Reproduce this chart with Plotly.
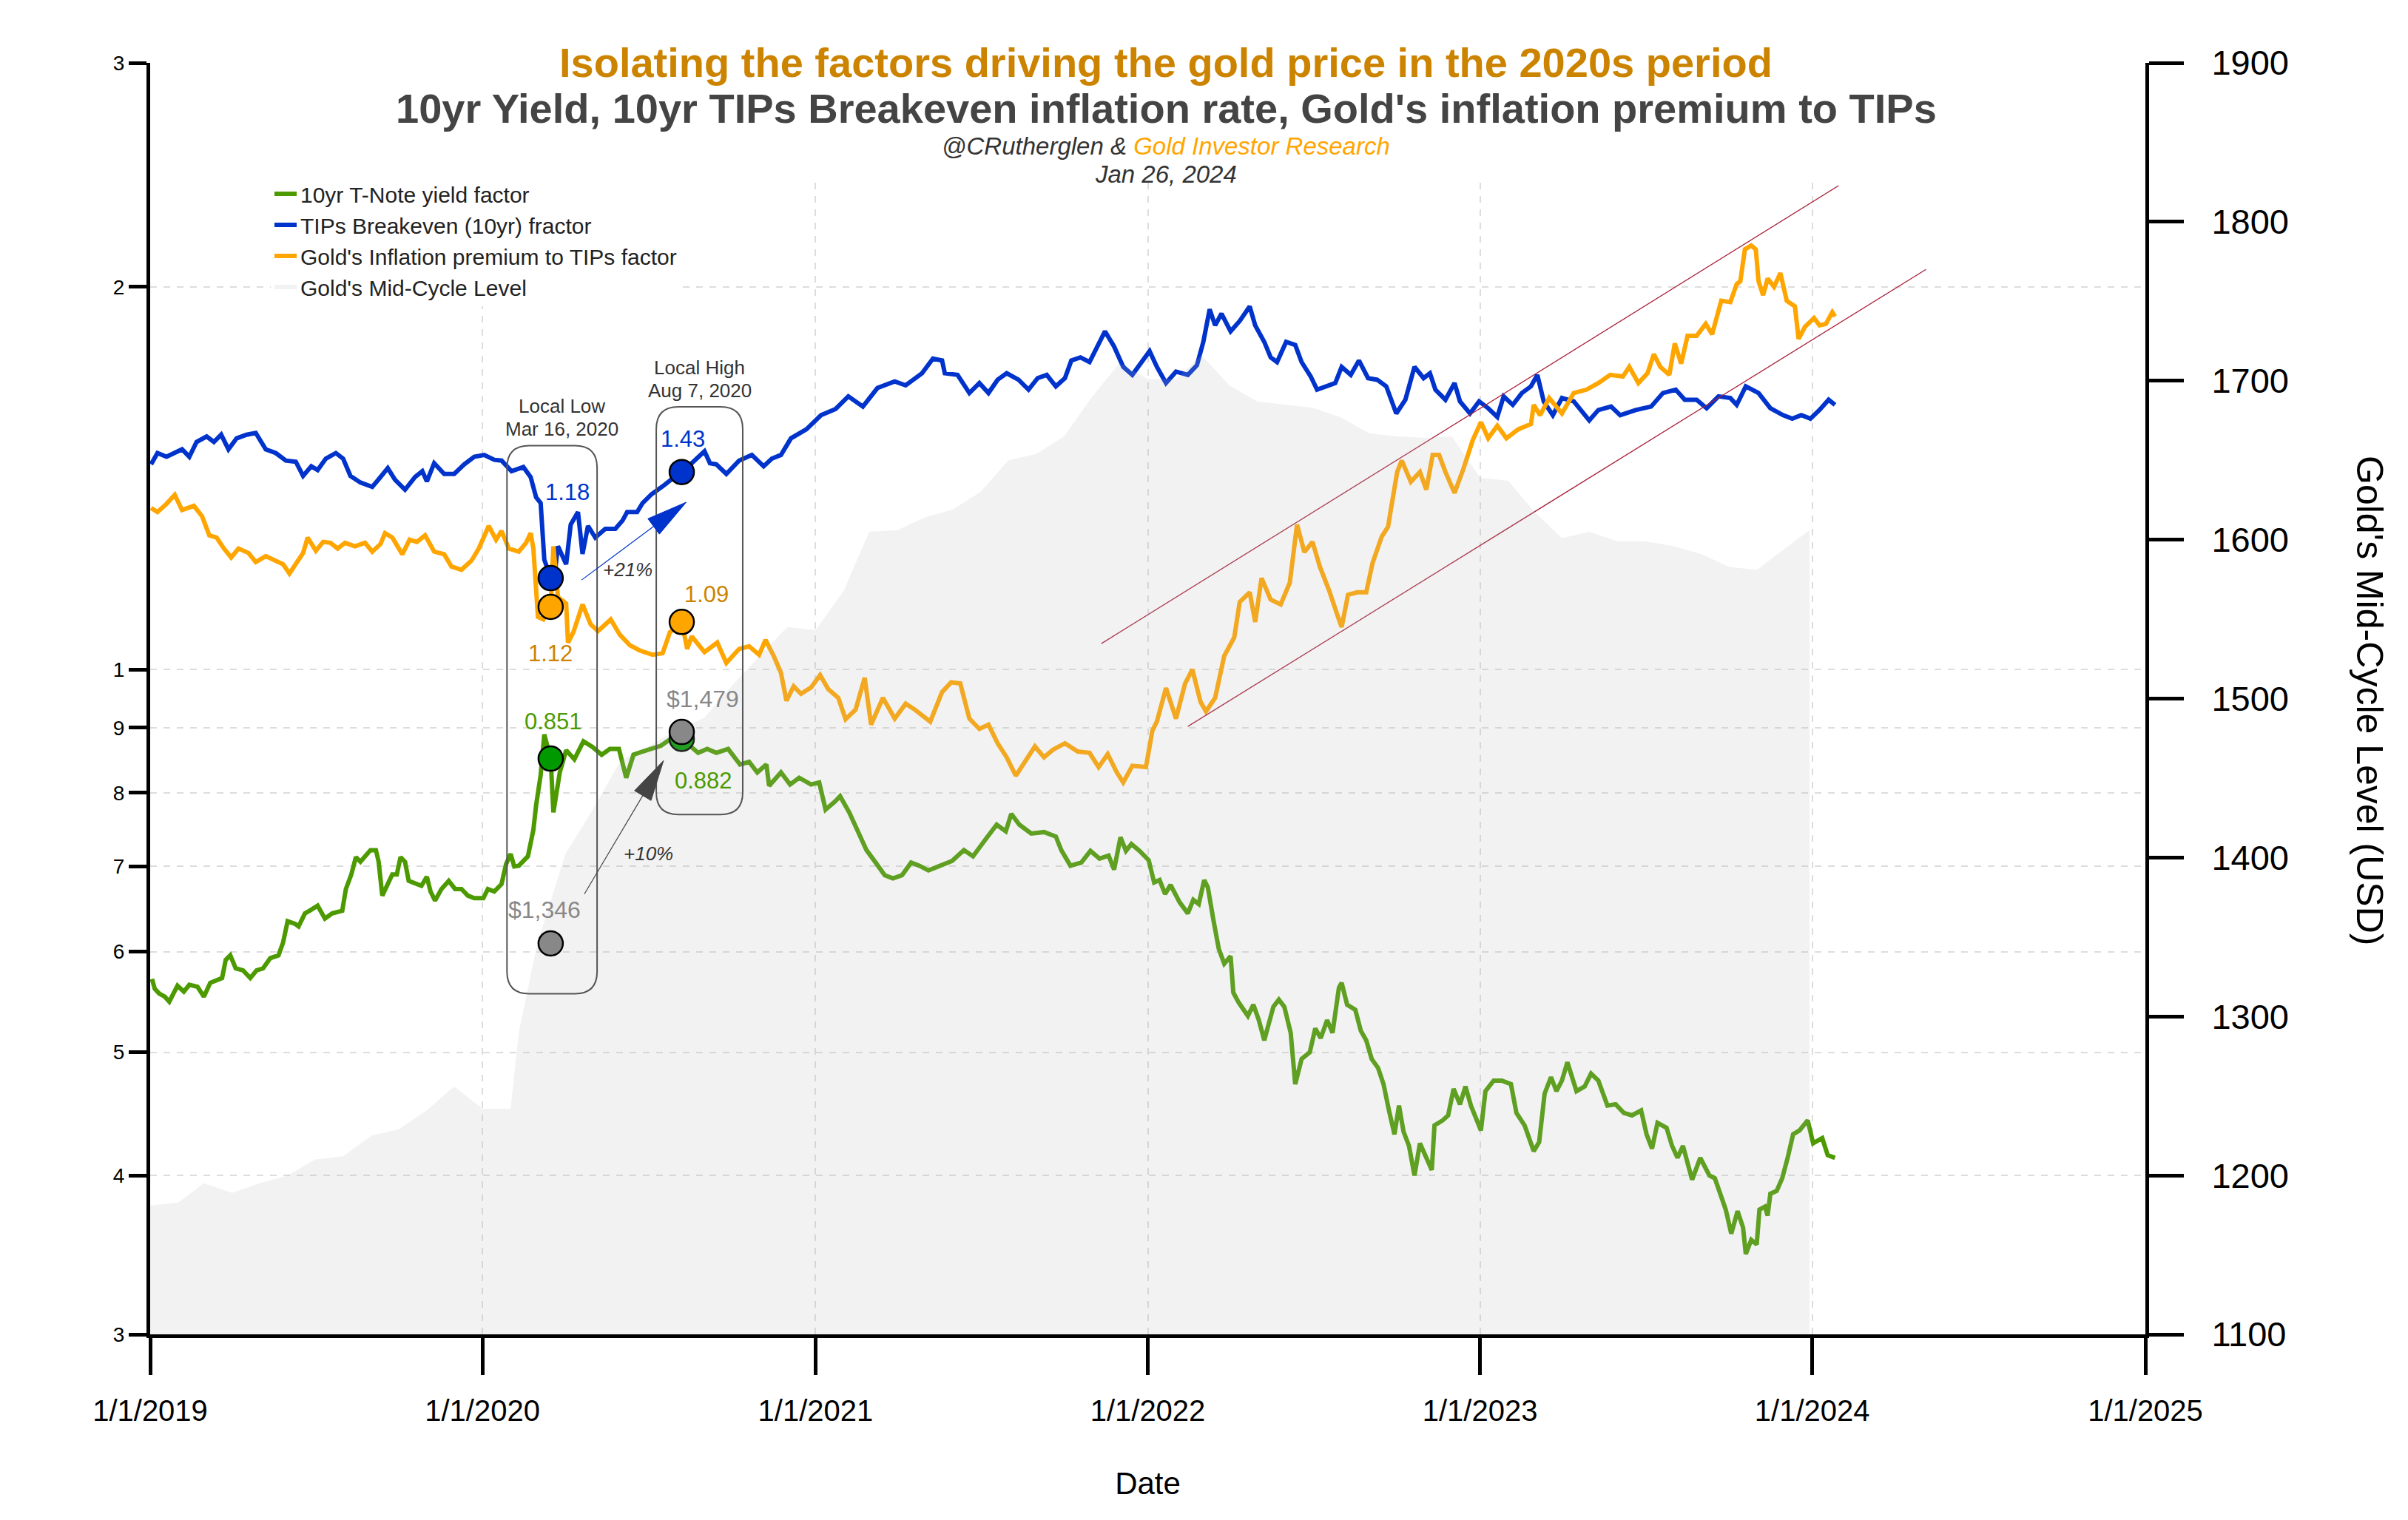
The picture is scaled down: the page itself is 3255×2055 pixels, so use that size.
import math
import pandas as pd
import plotly.graph_objects as go

# ---------------- DATA ----------------
tnote_dates = [
    "2019-01-03","2019-01-06","2019-01-11","2019-01-17","2019-01-22","2019-01-31","2019-02-07","2019-02-13","2019-02-22","2019-03-01",
    "2019-03-08","2019-03-21","2019-03-25","2019-03-30","2019-04-05","2019-04-13","2019-04-21","2019-04-28","2019-05-05","2019-05-13",
    "2019-05-22","2019-05-27","2019-06-01","2019-06-09","2019-06-13","2019-06-20","2019-06-25","2019-07-04","2019-07-12","2019-07-20",
    "2019-07-31","2019-08-04","2019-08-10","2019-08-15","2019-08-20","2019-08-26","2019-08-31","2019-09-06","2019-09-09","2019-09-13",
    "2019-09-18","2019-09-24","2019-09-29","2019-10-03","2019-10-08","2019-10-12","2019-10-19","2019-10-26","2019-11-01","2019-11-05",
    "2019-11-10","2019-11-17","2019-11-25","2019-12-02","2019-12-09","2019-12-16","2019-12-23","2020-01-02","2020-01-07","2020-01-14",
    "2020-01-22","2020-01-27","2020-02-01","2020-02-05","2020-02-10","2020-02-20","2020-02-26","2020-02-29","2020-03-05","2020-03-09",
    "2020-03-16","2020-03-19","2020-03-26","2020-04-02","2020-04-11","2020-04-21","2020-05-01","2020-05-11","2020-05-20","2020-05-30",
    "2020-06-07","2020-06-15","2020-06-25","2020-07-05","2020-07-15","2020-07-24","2020-08-07","2020-08-16","2020-08-25","2020-09-04",
    "2020-09-14","2020-09-27","2020-10-10","2020-10-20","2020-10-29","2020-11-08","2020-11-11","2020-11-24","2020-12-04","2020-12-14",
    "2020-12-27","2021-01-05","2021-01-12","2021-01-22","2021-01-28","2021-02-07","2021-02-16","2021-02-26","2021-03-08","2021-03-18",
    "2021-03-27","2021-04-06","2021-04-16","2021-04-25","2021-05-05","2021-05-18","2021-05-31","2021-06-13","2021-06-23","2021-07-06",
    "2021-07-19","2021-07-29","2021-08-04","2021-08-13","2021-08-26","2021-09-09","2021-09-22","2021-09-28","2021-10-08","2021-10-20",
    "2021-10-30","2021-11-09","2021-11-19","2021-11-25","2021-12-02","2021-12-08","2021-12-14","2021-12-23","2022-01-02","2022-01-08",
    "2022-01-14","2022-01-20","2022-01-26","2022-02-05","2022-02-14","2022-02-20","2022-02-26","2022-03-04","2022-03-08","2022-03-14",
    "2022-03-20","2022-03-26","2022-04-02","2022-04-05","2022-04-11","2022-04-21","2022-04-27","2022-05-03","2022-05-09","2022-05-19",
    "2022-05-25","2022-05-31","2022-06-07","2022-06-12","2022-06-19","2022-06-28","2022-07-04","2022-07-10","2022-07-17","2022-07-23",
    "2022-07-30","2022-08-02","2022-08-08","2022-08-17","2022-08-23","2022-08-29","2022-09-04","2022-09-11","2022-09-17","2022-09-23",
    "2022-09-29","2022-10-04","2022-10-09","2022-10-15","2022-10-21","2022-10-27","2022-11-02","2022-11-09","2022-11-12","2022-11-21",
    "2022-11-27","2022-12-03","2022-12-10","2022-12-16","2022-12-22","2023-01-02","2023-01-07","2023-01-16","2023-01-25","2023-02-04",
    "2023-02-10","2023-02-19","2023-03-01","2023-03-07","2023-03-13","2023-03-20","2023-03-26","2023-04-01","2023-04-07","2023-04-17",
    "2023-04-26","2023-05-03","2023-05-11","2023-05-21","2023-05-30","2023-06-08","2023-06-17","2023-06-27","2023-07-03","2023-07-09",
    "2023-07-15","2023-07-25","2023-07-31","2023-08-06","2023-08-12","2023-08-22","2023-08-31","2023-09-10","2023-09-16","2023-09-22",
    "2023-09-28","2023-10-04","2023-10-11","2023-10-17","2023-10-20","2023-10-26","2023-11-01","2023-11-04","2023-11-10","2023-11-13",
    "2023-11-16","2023-11-23","2023-11-29","2023-12-05","2023-12-11","2023-12-18","2023-12-27","2024-01-02","2024-01-12","2024-01-18",
    "2024-01-26",
]
tnote_values = [
    0.571,0.561,0.556,0.553,0.548,0.564,0.558,0.565,0.563,0.553,
    0.567,0.572,0.591,0.596,0.582,0.580,0.572,0.580,0.582,0.593,
    0.596,0.610,0.634,0.631,0.628,0.643,0.646,0.652,0.637,0.643,
    0.646,0.672,0.690,0.712,0.706,0.715,0.721,0.721,0.706,0.664,
    0.676,0.690,0.690,0.712,0.706,0.682,0.679,0.676,0.687,0.669,
    0.658,0.672,0.682,0.672,0.672,0.664,0.661,0.661,0.672,0.669,
    0.678,0.703,0.716,0.700,0.701,0.713,0.748,0.782,0.826,0.889,
    0.851,0.772,0.830,0.864,0.850,0.878,0.869,0.857,0.866,0.866,
    0.822,0.857,0.862,0.866,0.871,0.880,0.882,0.871,0.860,0.866,
    0.860,0.866,0.842,0.846,0.830,0.842,0.810,0.830,0.812,0.822,
    0.812,0.815,0.776,0.787,0.795,0.772,0.748,0.721,0.705,0.689,
    0.685,0.689,0.705,0.701,0.695,0.701,0.707,0.721,0.713,0.734,
    0.755,0.746,0.770,0.755,0.743,0.745,0.739,0.721,0.701,0.705,
    0.720,0.710,0.714,0.696,0.738,0.720,0.729,0.720,0.708,0.680,
    0.683,0.666,0.677,0.656,0.643,0.659,0.654,0.683,0.674,0.636,
    0.603,0.587,0.595,0.557,0.547,0.534,0.545,0.530,0.511,0.543,
    0.550,0.543,0.518,0.472,0.494,0.500,0.522,0.513,0.530,0.518,
    0.562,0.567,0.545,0.540,0.520,0.511,0.494,0.486,0.472,0.450,
    0.431,0.454,0.433,0.422,0.400,0.424,0.415,0.404,0.438,0.442,
    0.446,0.468,0.455,0.470,0.454,0.434,0.466,0.475,0.475,0.472,
    0.448,0.438,0.418,0.425,0.464,0.478,0.466,0.475,0.491,0.466,
    0.470,0.481,0.475,0.454,0.455,0.448,0.446,0.450,0.431,0.420,
    0.440,0.436,0.422,0.413,0.422,0.397,0.413,0.400,0.398,0.387,
    0.376,0.360,0.375,0.364,0.347,0.356,0.353,0.376,0.378,0.372,
    0.387,0.389,0.398,0.413,0.431,0.434,0.442,0.424,0.428,0.415,
    0.413,
]

tips_dates = [
    "2019-01-02","2019-01-09","2019-01-19","2019-02-05","2019-02-13","2019-02-21","2019-03-04","2019-03-12","2019-03-20","2019-03-28",
    "2019-04-06","2019-04-17","2019-04-27","2019-05-08","2019-05-19","2019-05-30","2019-06-10","2019-06-18","2019-06-27","2019-07-04",
    "2019-07-13","2019-07-24","2019-08-01","2019-08-09","2019-08-20","2019-09-02","2019-09-11","2019-09-19","2019-09-27","2019-10-08",
    "2019-10-19","2019-10-27","2019-11-01","2019-11-09","2019-11-20","2019-12-01","2019-12-12","2019-12-23","2020-01-03","2020-01-14",
    "2020-01-22","2020-02-02","2020-02-15","2020-02-23","2020-02-29","2020-03-05","2020-03-09","2020-03-16","2020-03-19","2020-03-24",
    "2020-04-02","2020-04-07","2020-04-15","2020-04-20","2020-04-26","2020-05-04","2020-05-15","2020-05-26","2020-06-03","2020-06-08",
    "2020-06-19","2020-06-25","2020-07-05","2020-07-19","2020-08-07","2020-08-18","2020-09-01","2020-09-07","2020-09-14","2020-09-25",
    "2020-10-09","2020-10-23","2020-11-05","2020-11-14","2020-11-24","2020-12-05","2020-12-22","2021-01-07","2021-01-23","2021-02-06",
    "2021-02-22","2021-03-10","2021-03-29","2021-04-10","2021-04-28","2021-05-10","2021-05-20","2021-05-23","2021-06-06","2021-06-19",
    "2021-06-30","2021-07-10","2021-07-20","2021-07-30","2021-08-12","2021-08-23","2021-09-02","2021-09-12","2021-09-22","2021-10-02",
    "2021-10-09","2021-10-19","2021-10-29","2021-11-08","2021-11-15","2021-11-25","2021-12-05","2021-12-15","2021-12-25","2022-01-03",
    "2022-01-11","2022-01-21","2022-02-01","2022-02-14","2022-02-24","2022-03-03","2022-03-10","2022-03-16","2022-03-23","2022-04-02",
    "2022-04-12","2022-04-23","2022-04-29","2022-05-09","2022-05-16","2022-05-23","2022-06-02","2022-06-12","2022-06-19","2022-06-29",
    "2022-07-06","2022-07-16","2022-07-26","2022-08-02","2022-08-12","2022-08-21","2022-08-31","2022-09-10","2022-09-20","2022-10-01",
    "2022-10-11","2022-10-21","2022-10-31","2022-11-07","2022-11-13","2022-11-24","2022-12-04","2022-12-10","2022-12-21","2022-12-31",
    "2023-01-10","2023-01-20","2023-01-27","2023-02-06","2023-02-16","2023-02-26","2023-03-05","2023-03-12","2023-03-22","2023-04-01",
    "2023-04-14","2023-05-01","2023-05-11","2023-05-25","2023-06-04","2023-06-21","2023-07-08","2023-07-21","2023-08-04","2023-08-14",
    "2023-08-27","2023-09-07","2023-09-20","2023-10-03","2023-10-10","2023-10-20","2023-11-03","2023-11-16","2023-11-30","2023-12-10",
    "2023-12-20","2023-12-30","2024-01-09","2024-01-19","2024-01-26",
]
tips_values = [
    1.450,1.480,1.470,1.490,1.470,1.510,1.525,1.510,1.530,1.490,
    1.520,1.530,1.535,1.490,1.480,1.460,1.457,1.420,1.445,1.435,
    1.465,1.480,1.465,1.420,1.403,1.392,1.417,1.440,1.410,1.385,
    1.417,1.432,1.406,1.453,1.425,1.425,1.450,1.470,1.475,1.462,
    1.460,1.432,1.443,1.417,1.366,1.352,1.220,1.180,1.165,1.250,
    1.210,1.300,1.330,1.233,1.297,1.270,1.290,1.290,1.310,1.330,
    1.330,1.352,1.374,1.397,1.430,1.453,1.485,1.453,1.450,1.425,
    1.460,1.475,1.445,1.465,1.475,1.520,1.545,1.585,1.603,1.640,
    1.610,1.665,1.685,1.673,1.710,1.756,1.750,1.710,1.705,1.650,
    1.680,1.650,1.690,1.710,1.690,1.660,1.695,1.705,1.670,1.695,
    1.750,1.760,1.745,1.800,1.845,1.795,1.730,1.705,1.745,1.780,
    1.730,1.680,1.715,1.705,1.735,1.810,1.920,1.865,1.905,1.845,
    1.880,1.930,1.865,1.810,1.760,1.745,1.810,1.800,1.745,1.700,
    1.660,1.670,1.680,1.730,1.705,1.750,1.695,1.690,1.670,1.590,
    1.630,1.730,1.695,1.710,1.660,1.630,1.680,1.625,1.590,1.625,
    1.605,1.580,1.640,1.615,1.650,1.670,1.705,1.625,1.585,1.635,
    1.625,1.570,1.600,1.610,1.585,1.600,1.610,1.650,1.660,1.630,
    1.630,1.605,1.640,1.635,1.615,1.670,1.650,1.605,1.585,1.575,
    1.585,1.575,1.600,1.630,1.615,
]

premium_dates = [
    "2019-01-02","2019-01-09","2019-01-19","2019-01-28","2019-02-05","2019-02-18","2019-02-27","2019-03-07","2019-03-15","2019-03-23",
    "2019-03-31","2019-04-08","2019-04-19","2019-04-27","2019-05-08","2019-05-19","2019-05-27","2019-06-03","2019-06-10","2019-06-18",
    "2019-06-23","2019-07-02","2019-07-10","2019-07-18","2019-07-26","2019-08-03","2019-08-14","2019-08-25","2019-09-02","2019-09-11",
    "2019-09-16","2019-09-24","2019-10-05","2019-10-13","2019-10-21","2019-10-30","2019-11-09","2019-11-20","2019-11-28","2019-12-09",
    "2019-12-20","2019-12-28","2020-01-08","2020-01-16","2020-01-22","2020-01-30","2020-02-10","2020-02-18","2020-02-23","2020-02-26",
    "2020-03-02","2020-03-08","2020-03-16","2020-03-19","2020-03-24","2020-04-02","2020-04-04","2020-04-10","2020-04-20","2020-04-29",
    "2020-05-07","2020-05-21","2020-05-31","2020-06-11","2020-06-22","2020-07-06","2020-07-17","2020-07-25","2020-08-07","2020-08-13",
    "2020-08-18","2020-09-01","2020-09-15","2020-09-25","2020-10-09","2020-10-20","2020-10-31","2020-11-07","2020-11-16","2020-11-24",
    "2020-11-30","2020-12-08","2020-12-16","2020-12-27","2021-01-06","2021-01-15","2021-01-26","2021-02-03","2021-02-14","2021-02-24",
    "2021-03-03","2021-03-16","2021-03-29","2021-04-10","2021-04-20","2021-05-07","2021-05-20","2021-05-30","2021-06-09","2021-06-19",
    "2021-06-30","2021-07-10","2021-07-20","2021-07-30","2021-08-09","2021-08-20","2021-08-30","2021-09-09","2021-09-19","2021-10-02",
    "2021-10-16","2021-10-29","2021-11-08","2021-11-18","2021-11-28","2021-12-05","2021-12-15","2021-12-30","2022-01-06","2022-01-11",
    "2022-01-21","2022-02-01","2022-02-11","2022-02-19","2022-02-28","2022-03-06","2022-03-16","2022-03-26","2022-04-06","2022-04-12",
    "2022-04-23","2022-04-29","2022-05-06","2022-05-16","2022-05-27","2022-06-06","2022-06-14","2022-06-22","2022-07-01","2022-07-09",
    "2022-07-19","2022-07-29","2022-08-02","2022-08-09","2022-08-19","2022-08-29","2022-09-05","2022-09-15","2022-09-22","2022-09-25",
    "2022-10-02","2022-10-07","2022-10-17","2022-10-27","2022-11-03","2022-11-10","2022-11-17","2022-11-24","2022-12-04","2022-12-14",
    "2022-12-24","2023-01-02","2023-01-10","2023-01-20","2023-01-30","2023-02-12","2023-02-26","2023-03-01","2023-03-08","2023-03-18",
    "2023-04-01","2023-04-14","2023-04-28","2023-05-11","2023-05-24","2023-06-07","2023-06-14","2023-06-24","2023-07-04","2023-07-11",
    "2023-07-18","2023-07-28","2023-08-03","2023-08-10","2023-08-17","2023-08-27","2023-09-06","2023-09-13","2023-09-23","2023-10-03",
    "2023-10-10","2023-10-14","2023-10-19","2023-10-26","2023-10-31","2023-11-03","2023-11-08","2023-11-13","2023-11-20","2023-11-27",
    "2023-12-04","2023-12-13","2023-12-17","2023-12-24","2024-01-03","2024-01-09","2024-01-16","2024-01-23","2024-01-26",
]
premium_values = [
    1.340,1.330,1.350,1.372,1.335,1.345,1.320,1.275,1.270,1.245,
    1.225,1.245,1.235,1.215,1.228,1.218,1.210,1.190,1.210,1.235,
    1.270,1.240,1.260,1.258,1.245,1.258,1.250,1.258,1.238,1.255,
    1.280,1.270,1.232,1.265,1.260,1.275,1.238,1.232,1.205,1.198,
    1.218,1.245,1.297,1.265,1.285,1.245,1.238,1.258,1.280,1.245,
    1.100,1.095,1.120,1.250,1.140,1.127,1.050,1.070,1.125,1.085,
    1.072,1.095,1.065,1.045,1.035,1.027,1.030,1.070,1.090,1.038,
    1.062,1.032,1.050,1.012,1.038,1.043,1.027,1.055,1.025,0.994,
    0.945,0.970,0.957,0.968,0.990,0.965,0.950,0.914,0.930,0.985,
    0.905,0.950,0.915,0.940,0.930,0.910,0.960,0.977,0.975,0.915,
    0.898,0.905,0.875,0.853,0.825,0.850,0.870,0.853,0.865,0.875,
    0.862,0.860,0.838,0.858,0.830,0.815,0.840,0.838,0.895,0.910,
    0.967,0.915,0.975,1.000,0.943,0.927,0.950,1.025,1.060,1.130,
    1.150,1.090,1.180,1.135,1.125,1.170,1.300,1.237,1.260,1.205,
    1.155,1.100,1.080,1.145,1.150,1.150,1.213,1.272,1.295,1.335,
    1.430,1.460,1.405,1.430,1.385,1.475,1.475,1.430,1.377,1.440,
    1.515,1.565,1.520,1.555,1.520,1.545,1.560,1.615,1.585,1.635,
    1.590,1.650,1.660,1.680,1.705,1.700,1.730,1.680,1.710,1.770,
    1.730,1.705,1.805,1.740,1.830,1.830,1.870,1.835,1.950,1.945,
    2.010,2.020,2.140,2.155,2.140,2.020,1.970,2.030,2.000,2.050,
    1.950,1.930,1.820,1.860,1.890,1.865,1.870,1.910,1.895,
]

midcycle_dates = [
    "2019-01-01","2019-02-01","2019-03-01","2019-04-01","2019-05-01","2019-06-01","2019-07-01","2019-08-01","2019-09-01","2019-10-01",
    "2019-11-01","2019-12-01","2020-01-01","2020-02-01","2020-02-10","2020-03-01","2020-04-01","2020-05-01","2020-06-01","2020-07-01",
    "2020-08-01","2020-09-01","2020-10-01","2020-11-01","2020-12-01","2021-01-01","2021-02-01","2021-03-01","2021-04-01","2021-05-01",
    "2021-06-01","2021-07-01","2021-08-01","2021-09-01","2021-10-01","2021-11-01","2021-12-01","2022-01-01","2022-02-01","2022-03-01",
    "2022-04-01","2022-05-01","2022-06-01","2022-07-01","2022-08-01","2022-09-01","2022-10-01","2022-11-01","2022-12-01","2023-01-01",
    "2023-02-01","2023-03-01","2023-04-01","2023-05-01","2023-06-01","2023-07-01","2023-08-01","2023-09-01","2023-10-01","2023-11-01",
    "2023-12-01","2023-12-29",
]
midcycle_values = [
    1181,1183,1195,1189,1195,1200,1210,1212,1225,1229,
    1241,1256,1242,1242,1290,1345,1402,1430,1461,1470,
    1480,1488,1508,1527,1545,1543,1568,1605,1606,1614,
    1619,1630,1650,1654,1665,1690,1711,1701,1701,1716,
    1697,1687,1685,1683,1677,1667,1665,1664,1665,1639,
    1637,1618,1601,1605,1599,1599,1596,1591,1583,1581,
    1594,1606,
]

# highlighted dates and their values
event_dates = ["2020-03-16", "2020-08-07"]
event_titles = ["Local Low", "Local High"]
event_subtitles = ["Mar 16, 2020", "Aug 7, 2020"]
tnote_marks = [0.851, 0.882]
tips_marks = [1.18, 1.43]
premium_marks = [1.12, 1.09]
gold_marks = [1346, 1479]

# trend channel drawn on the premium factor (date, value) endpoints
channel_upper = [("2021-11-11", 1.048), ("2024-01-30", 2.402)]
channel_lower = [("2022-02-14", 0.902), ("2024-05-05", 2.064)]

year_ticks = ["2019-01-01", "2020-01-01", "2021-01-01", "2022-01-01", "2023-01-01", "2024-01-01", "2025-01-01"]
year_labels = ["1/1/2019", "1/1/2020", "1/1/2021", "1/1/2022", "1/1/2023", "1/1/2024", "1/1/2025"]
left_tickvals = [0.3, 0.4, 0.5, 0.6, 0.7, 0.8, 0.9, 1, 2, 3]
left_ticktext = ["3", "4", "5", "6", "7", "8", "9", "1", "2", "3"]
right_tickvals = [1100, 1200, 1300, 1400, 1500, 1600, 1700, 1800, 1900]

# ---------------- STYLE / GEOMETRY ----------------
FONT = "Liberation Sans, Arial, sans-serif"
GREEN = "#4C9A00"
BLUE = "#0033CC"
ORANGE = "#FFA500"
GOLD_TXT = "#CC8400"
GRAY = "#888888"
DARK = "#333333"
GREEN_MK = "#009900"
LINE_W = 6

W, H = 3255, 2055
ML, MR, MT, MB = 203, 355, 85, 251
PW, PH = W - ML - MR, H - MT - MB
X_START, X_END = "2019-01-01", "2025-01-01"
LEFT_RANGE = (0.3, 3.0)
RIGHT_RANGE = (1100, 1900)


def px_x(d):
    t0, t1 = pd.Timestamp(X_START), pd.Timestamp(X_END)
    return ML + (pd.Timestamp(d) - t0) / (t1 - t0) * PW


def px_ylog(v):
    lo, hi = math.log10(LEFT_RANGE[0]), math.log10(LEFT_RANGE[1])
    return MT + (hi - math.log10(v)) / (hi - lo) * PH


def px_ylin(v):
    lo, hi = RIGHT_RANGE
    return MT + (hi - v) / (hi - lo) * PH


def paper(px, py):
    return (px - ML) / PW, (H - MB - py) / PH


def P(px, py):
    a, b = paper(px, py)
    return f"{a:.6f},{b:.6f}"


def rounded_rect(x0, y0, x1, y1, r, color="#555555", width=2):
    path = (f"M{P(x0 + r, y0)} L{P(x1 - r, y0)} Q{P(x1, y0)} {P(x1, y0 + r)} "
            f"L{P(x1, y1 - r)} Q{P(x1, y1)} {P(x1 - r, y1)} "
            f"L{P(x0 + r, y1)} Q{P(x0, y1)} {P(x0, y1 - r)} "
            f"L{P(x0, y0 + r)} Q{P(x0, y0)} {P(x0 + r, y0)} Z")
    return dict(type="path", xref="paper", yref="paper", path=path,
                line=dict(color=color, width=width), fillcolor="rgba(0,0,0,0)", layer="above")


def arrow(tail, tip, color, line_w=1.2, head_len=55, head_w=26):
    (tx, ty), (hx, hy) = tail, tip
    dx, dy = hx - tx, hy - ty
    L = math.hypot(dx, dy)
    ux, uy = dx / L, dy / L
    bx, by = hx - ux * head_len, hy - uy * head_len
    nx, ny = -uy, ux
    p1 = (bx + nx * head_w / 2, by + ny * head_w / 2)
    p2 = (bx - nx * head_w / 2, by - ny * head_w / 2)
    a0, b0 = paper(tx, ty)
    a1, b1 = paper(bx + ux * 4, by + uy * 4)
    shaft = dict(type="line", xref="paper", yref="paper", x0=a0, y0=b0, x1=a1, y1=b1,
                 line=dict(color=color, width=line_w), layer="above")
    head = dict(type="path", xref="paper", yref="paper",
                path=f"M{P(hx, hy)} L{P(*p1)} L{P(*p2)} Z",
                fillcolor=color, line=dict(color=color, width=1), layer="above")
    return [shaft, head]


fig = go.Figure()

fig.add_trace(go.Scatter(x=tnote_dates, y=tnote_values, mode="lines", name="10yr T-Note yield factor",
                         line=dict(color=GREEN, width=LINE_W)))
fig.add_trace(go.Scatter(x=tips_dates, y=tips_values, mode="lines", name="TIPs Breakeven (10yr) fractor",
                         line=dict(color=BLUE, width=LINE_W)))
fig.add_trace(go.Scatter(x=premium_dates, y=premium_values, mode="lines",
                         name="Gold's Inflation premium to TIPs factor",
                         line=dict(color=ORANGE, width=LINE_W)))

for seg in (channel_upper, channel_lower):
    fig.add_trace(go.Scatter(x=[p[0] for p in seg], y=[p[1] for p in seg], mode="lines",
                             line=dict(color="#A8203A", width=1.3), showlegend=False, hoverinfo="skip"))

mk_line = dict(color="black", width=2.5)
fig.add_trace(go.Scatter(x=event_dates, y=tnote_marks, mode="markers", showlegend=False,
                         marker=dict(size=33, color=GREEN_MK, line=mk_line)))
fig.add_trace(go.Scatter(x=event_dates, y=premium_marks, mode="markers", showlegend=False,
                         marker=dict(size=33, color=ORANGE, line=mk_line)))
fig.add_trace(go.Scatter(x=event_dates, y=tips_marks, mode="markers", showlegend=False,
                         marker=dict(size=33, color=BLUE, line=mk_line)))

fig.add_trace(go.Scatter(x=midcycle_dates, y=midcycle_values, yaxis="y2", mode="none", fill="tozeroy",
                         fillcolor="rgba(185,185,185,0.18)", name="Gold's Mid-Cycle Level"))
fig.add_trace(go.Scatter(x=event_dates, y=gold_marks, yaxis="y2", mode="markers", showlegend=False,
                         marker=dict(size=33, color=GRAY, line=mk_line)))

shapes = []
annotations = []

# white background behind the title block
a0, b0 = paper(533, 40)
a1, b1 = paper(2617, 240)
shapes.append(dict(type="rect", xref="paper", yref="paper", x0=a0, y0=b1, x1=a1, y1=b0,
                   fillcolor="white", line=dict(width=0), layer="above"))

# event boxes (date span, value span)
box_spans = [("2020-01-28", "2020-05-06", 1.50, 0.556), ("2020-07-10", "2020-10-13", 1.609, 0.769)]
for (d0, d1, vt, vb), title, sub in zip(box_spans, event_titles, event_subtitles):
    x0, x1 = px_x(d0), px_x(d1)
    y0, y1 = px_ylog(vt), px_ylog(vb)
    shapes.append(rounded_rect(x0, y0, x1, y1, 30))
    cx = (x0 + x1) / 2 + (13 if title == "Local Low" else 0)
    for txt, dy in ((title, -53), (sub, -22)):
        ax, ay = paper(cx, y0 + dy)
        annotations.append(dict(text=txt, x=ax, y=ay, xref="paper", yref="paper", showarrow=False,
                                xanchor="center", yanchor="middle", font=dict(size=26, color=DARK)))


def label(d, y_px, text, color, dx, dy, size=31):
    ax, ay = paper(px_x(d) + dx, y_px + dy)
    annotations.append(dict(text=text, x=ax, y=ay, xref="paper", yref="paper", showarrow=False,
                            xanchor="center", yanchor="middle", font=dict(size=size, color=color)))


lo, hi = event_dates
label(lo, px_ylog(tips_marks[0]), f"{tips_marks[0]:.2f}", BLUE, 23, -116)
label(hi, px_ylog(tips_marks[1]), f"{tips_marks[1]:.2f}", BLUE, 1, -45)
label(lo, px_ylog(premium_marks[0]), f"{premium_marks[0]:.2f}", GOLD_TXT, 0, 63)
label(hi, px_ylog(premium_marks[1]), f"{premium_marks[1]:.2f}", GOLD_TXT, 33, -37)
label(lo, px_ylog(tnote_marks[0]), f"{tnote_marks[0]:.3f}", GREEN, 4, -50)
label(hi, px_ylog(tnote_marks[1]), f"{tnote_marks[1]:.3f}", GREEN, 29, 57)
label(lo, px_ylin(gold_marks[0]), f"${gold_marks[0]:,.0f}", GRAY, -8, -45, 32)
label(hi, px_ylin(gold_marks[1]), f"${gold_marks[1]:,.0f}", GRAY, 28, -45, 32)

# arrows between the two events
blue_tail = (px_x("2020-04-19"), px_ylog(1.176))
blue_tip = (px_x("2020-08-12"), px_ylog(1.354))
gray_tail = (px_x("2020-04-22"), px_ylin(1377))
gray_tip = (px_x("2020-07-18"), px_ylin(1461))
shapes += arrow(blue_tail, blue_tip, BLUE)
shapes += arrow(gray_tail, gray_tip, "#444444")

tips_change = round((tips_marks[1] / tips_marks[0] - 1) * 100)
gold_change = round((gold_marks[1] / gold_marks[0] - 1) * 100)
mx, my = (blue_tail[0] + blue_tip[0]) / 2, (blue_tail[1] + blue_tip[1]) / 2
ax, ay = paper(mx - 8, my + 38)
annotations.append(dict(text=f"<i>+{tips_change}%</i>", x=ax, y=ay, xref="paper", yref="paper",
                        xanchor="center", yanchor="middle", showarrow=False, font=dict(size=26, color=DARK)))
mx, my = (gray_tail[0] + gray_tip[0]) / 2, (gray_tail[1] + gray_tip[1]) / 2
ax, ay = paper(mx + 33, my + 35)
annotations.append(dict(text=f"<i>+{gold_change}%</i>", x=ax, y=ay, xref="paper", yref="paper",
                        xanchor="center", yanchor="middle", showarrow=False, font=dict(size=26, color=DARK)))

# titles
TX = 1576
for txt, py, size, color in (
    ("<b>Isolating the factors driving the gold price in the 2020s period</b>", 84, 56, GOLD_TXT),
    ("<b>10yr Yield, 10yr TIPs Breakeven inflation rate, Gold's inflation premium to TIPs</b>", 147, 56, "#444444"),
    ("<i>@CRutherglen &amp; <span style='color:#FFA500'>Gold Investor Research</span></i>", 197, 33, DARK),
    ("<i>Jan 26, 2024</i>", 235, 33, DARK),
):
    ax, ay = paper(TX, py)
    annotations.append(dict(text=txt, x=ax, y=ay, xref="paper", yref="paper", showarrow=False,
                            xanchor="center", yanchor="middle", font=dict(size=size, color=color)))

# right axis title (reads top to bottom)
ax, ay = paper(3203, 947)
annotations.append(dict(text="Gold's Mid-Cycle Level (USD)", x=ax, y=ay, xref="paper", yref="paper",
                        showarrow=False, textangle=90, xanchor="center", yanchor="middle",
                        font=dict(size=50, color="black")))

lg_x, lg_y = paper(366, 236)

fig.update_layout(
    width=W, height=H, autosize=False,
    margin=dict(l=ML, r=MR, t=MT, b=MB, pad=0),
    paper_bgcolor="white", plot_bgcolor="white",
    font=dict(family=FONT, color="black"),
    shapes=shapes, annotations=annotations,
    legend=dict(x=lg_x, y=lg_y, xanchor="left", yanchor="top", bgcolor="white",
                font=dict(size=30, color="#222222"), borderwidth=0, traceorder="normal"),
    xaxis=dict(type="date", range=[X_START, X_END], tickvals=year_ticks, ticktext=year_labels,
               ticks="outside", ticklen=50, tickwidth=5, tickcolor="black",
               showline=True, linewidth=5, linecolor="black", zeroline=False,
               showgrid=True, gridcolor="#DDDDDD", gridwidth=1.5, griddash="dash",
               tickfont=dict(size=40, color="black"), ticklabelstandoff=14,
               title=dict(text="Date", font=dict(size=42, color="black"), standoff=64)),
    yaxis=dict(type="log", range=[math.log10(LEFT_RANGE[0]), math.log10(LEFT_RANGE[1])],
               tickvals=left_tickvals, ticktext=left_ticktext, side="left",
               ticks="outside", ticklen=24, tickwidth=5, tickcolor="black",
               showline=True, linewidth=5, linecolor="black", zeroline=False,
               showgrid=True, gridcolor="#DDDDDD", gridwidth=1.5, griddash="dash",
               tickfont=dict(size=28, color="black")),
    yaxis2=dict(overlaying="y", side="right", range=list(RIGHT_RANGE), tickvals=right_tickvals,
                ticks="outside", ticklen=47, tickwidth=5, tickcolor="black",
                showline=True, linewidth=5, linecolor="black", zeroline=False, showgrid=False,
                tickfont=dict(size=47, color="black"), ticklabelstandoff=28),
)

fig.write_html("out.html")
